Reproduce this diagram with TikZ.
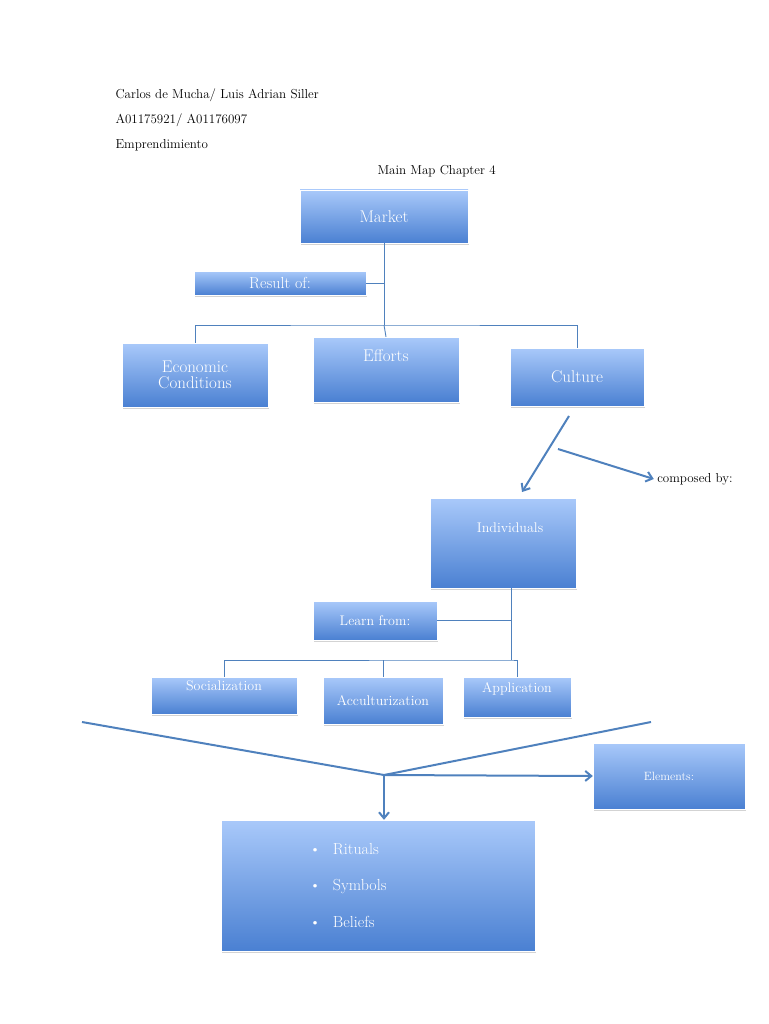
\documentclass[tikz,border=0pt]{standalone}
\usepackage{tikz}
\usetikzlibrary{positioning,shadows,arrows.meta}
\definecolor{boxtop}{HTML}{A9C9FA}
\definecolor{boxbot}{HTML}{4A80D2}
\definecolor{linkc}{HTML}{4F81BD}
\tikzset{
  box/.style={draw=white, top color=boxtop, bottom color=boxbot, text=white,
    drop shadow={opacity=0.35,shadow xshift=1pt,shadow yshift=-2pt},
    align=center, inner sep=0pt},
  link/.style={draw=linkc, line width=0.9pt},
  bigarrow/.style={draw=linkc, line width=2pt, -{Straight Barb[length=6pt,width=10pt]}},
  head/.style={anchor=west, font=\fontsize{13}{15}\selectfont}
}
\begin{document}
\begin{tikzpicture}[x=1pt,y=-1pt]
\useasboundingbox (0,0) rectangle (768,1024);

\node[head] (name) at (112,95) {Carlos de Mucha/ Luis Adrian Siller};
\node[head] (ids) at (112,120) {A01175921/ A01176097};
\node[head] (course) at (112,145) {Emprendimiento};
\node[head] (title) at (374,171) {Main Map Chapter 4};

% top level
\node[box, minimum width=168, minimum height=53, font=\fontsize{17}{19}\selectfont] (market) at (384,216.5) {Market};
\node[box, minimum width=172, minimum height=24, font=\fontsize{16}{18}\selectfont] (result) at (280,283) {Result of:};
\node[box, minimum width=146, minimum height=64, font=\fontsize{17}{19}\selectfont] (econ) at (195,375) {Economic\\[-3pt]Conditions};
\node[box, minimum width=146, minimum height=65, font=\fontsize{17}{19}\selectfont] (efforts) at (386,369.5) {Efforts\\[8pt]};
\node[box, minimum width=134, minimum height=58, font=\fontsize{17}{19}\selectfont] (culture) at (577,377) {Culture};

\coordinate (hub) at (384,325);
\draw[link] (market.south) -- (hub);
\draw[link] (result.east) -- (result.east -| hub);
\draw[link] (econ.north) |- (hub) -| (culture.north);
\draw[link] (hub) -- (efforts.north);

% culture branch
\node[box, minimum width=146, minimum height=90, font=\fontsize{14}{16}\selectfont] (indiv) at (503,543) {\hspace*{14pt}Individuals\\[14pt]};
\node[font=\fontsize{13}{15}\selectfont] (composed) at (695,479) {composed by:};
\coordinate (cfrom) at (569,416);
\coordinate (cside) at (558,449);
\draw[bigarrow] (cfrom) -- (522,492);
\draw[bigarrow] (cside) -- (composed.west);

\node[box, minimum width=124, minimum height=39, font=\fontsize{14}{16}\selectfont] (learn) at (375,620.5) {Learn from:};
\node[box, minimum width=146, minimum height=37, font=\fontsize{14}{16}\selectfont] (social) at (224,695.5) {Socialization\\[4pt]};
\node[box, minimum width=120, minimum height=47, font=\fontsize{14}{16}\selectfont] (accult) at (383,700.5) {Acculturization};
\node[box, minimum width=108, minimum height=40, font=\fontsize{14}{16}\selectfont] (appl) at (517,697) {Application\\[4pt]};

\coordinate (ihub) at (511,660);
\draw[link] (indiv.south -| ihub) -- (ihub);
\draw[link] (learn.east) -- (learn.east -| ihub);
\draw[link] (social.north) |- (ihub) -| (appl.north);
\draw[link] (accult.north) -- (accult.north |- ihub);

% funnel
\coordinate (vl) at (82,722);
\coordinate (vr) at (651,722);
\coordinate (vc) at (384,775);
\node[box, minimum width=152, minimum height=66, font=\fontsize{12}{14}\selectfont] (elem) at (669,776) {Elements:};
\node[box, minimum width=314, minimum height=131, font=\fontsize{16}{18}\selectfont, align=left] (list) at (378,885.5)
  {\hspace*{-60pt}\textbullet\hspace{12pt}Rituals\\[18pt]\hspace*{-60pt}\textbullet\hspace{12pt}Symbols\\[18pt]\hspace*{-60pt}\textbullet\hspace{12pt}Beliefs};
\draw[link, line width=2pt] (vl) -- (vc) -- (vr);
\draw[bigarrow] (vc) -- (vc |- list.north);
\draw[bigarrow] (vc) -- (elem.west);
\end{tikzpicture}
\end{document}
